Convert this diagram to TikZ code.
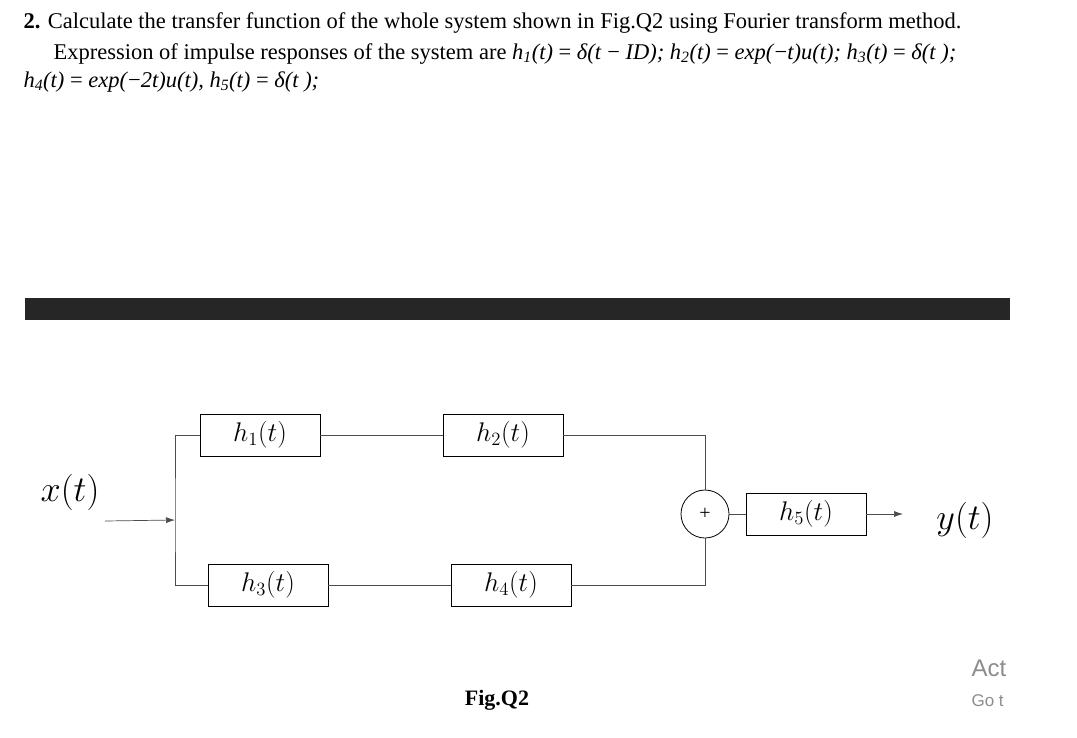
\documentclass[tikz,border=0pt]{standalone}
\usepackage{fontspec}
\usepackage{graphicx}
\usetikzlibrary{arrows.meta}
\setmainfont{Liberation Serif}
\newfontfamily\sans{Liberation Sans}
\newcommand{\bm}[1]{\scalebox{1.3}{$#1$}}
\newcommand{\xm}[1]{\scalebox{1.75}{$#1$}}
\begin{document}
\begin{tikzpicture}[x=1pt,y=-1pt,
  blk/.style={draw,line width=0.8pt,minimum width=120pt,minimum height=42pt,inner sep=0pt,font=\fontsize{20}{22}\selectfont},
  ln/.style={line width=0.7pt,draw=black!70}]
\useasboundingbox (0,0) rectangle (1077,737);
\fill[black!85] (25,298) rectangle (1010,320);
\node[anchor=west,font=\fontsize{22.5}{24}\selectfont] (t1) at (20,23) {\textbf{2.} Calculate the transfer function of the whole system shown in Fig.Q2 using Fourier transform method.};
\node[anchor=west,font=\fontsize{22.5}{24}\selectfont] (t2) at (50,54) {Expression of impulse responses of the system are \textit{h\textsubscript{1}(t)} = \textit{δ(t} − \textit{ID); h\textsubscript{2}(t)} = \textit{exp(}−\textit{t)u(t); h\textsubscript{3}(t)} = \textit{δ(t );}};
\node[anchor=west,font=\fontsize{22.5}{24}\selectfont] (t3) at (20,82) {\textit{h\textsubscript{4}(t)} = \textit{exp(}−\textit{2t)u(t), h\textsubscript{5}(t)} = \textit{δ(t );}};
\node[blk] (h1) at (260,435) {\bm{h_1(t)}};
\node[blk] (h2) at (503,435) {\bm{h_2(t)}};
\node[blk] (h3) at (268,585) {\bm{h_3(t)}};
\node[blk] (h4) at (511,585) {\bm{h_4(t)}};
\node[draw,circle,line width=0.8pt,minimum size=48pt,inner sep=0pt,font=\fontsize{20}{22}\selectfont] (s) at (705,514) {+};
\node[blk] (h5) at (806,514) {\bm{h_5(t)}};
\node[font=\fontsize{20}{22}\selectfont] (x) at (70,492) {\xm{x(t)}};
\node[font=\fontsize{20}{22}\selectfont] (y) at (965,520) {\xm{y(t)}};
\coordinate (j) at (175,520);
\coordinate (xs) at (105,521);
\draw[ln,-{Latex[length=9pt,width=6pt]}] (xs) -- (j);
\draw[ln] (h1.west) -| (j) |- (h3.west);
\draw[ln] (h1.east) -- (h2.west);
\draw[ln] (h3.east) -- (h4.west);
\draw[ln] (h2.east) -| (s.north);
\draw[ln] (h4.east) -| (s.south);
\draw[ln] (s.east) -- (h5.west);
\coordinate (ye) at (903,514);
\draw[ln,-{Latex[length=9pt,width=6pt]}] (h5.east) -- (ye);
\node[font=\bfseries\fontsize{22}{24}\selectfont] (fig) at (497,700) {Fig.Q2};
\node[text=black!45,font=\sans\fontsize{24}{26}\selectfont,anchor=west] (a1) at (968,668) {Act};
\node[text=black!45,font=\sans\fontsize{17}{19}\selectfont,anchor=west] (a2) at (968,701) {Go t};
\end{tikzpicture}
\end{document}
